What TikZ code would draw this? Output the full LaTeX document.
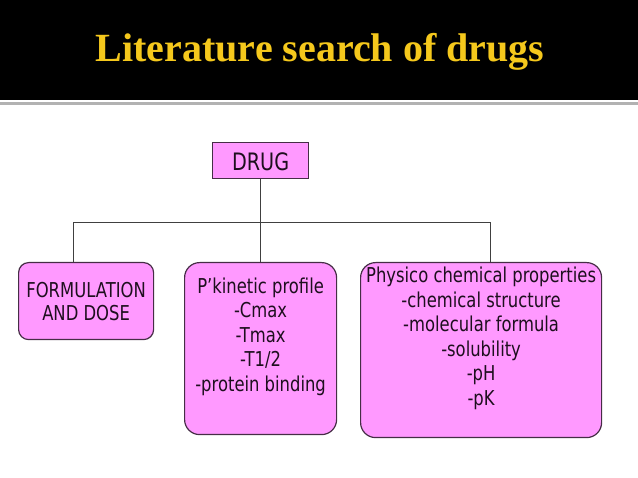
\documentclass[tikz,border=0pt]{standalone}
\usepackage{fontspec}
\usepackage{xcolor}
\usepackage{tikz}
\newfontfamily\titlefont{Liberation Serif}
\newfontfamily\boxfont[FakeStretch=0.8]{DejaVu Sans}
\definecolor{titlegold}{RGB}{245,200,28}
\definecolor{boxpink}{RGB}{255,153,255}
\definecolor{boxedge}{RGB}{70,45,70}
\definecolor{boxtext}{RGB}{30,15,30}

\begin{document}
\begin{tikzpicture}[x=1pt, y=-1pt,
        box/.style={draw=boxedge, line width=1.2pt, fill=boxpink, text=boxtext,
            align=center, inner xsep=0pt, inner ysep=0pt, anchor=north west,
            font=\boxfont\fontsize{20.5}{24.6}\selectfont},
        link/.style={draw=black!75, line width=1pt}]
            \useasboundingbox (0,0) rectangle (638,478);
            % Header
            \fill[black] (0,0) rectangle (638,100);
            \draw[line width=2.5pt, black!30] (0,103.5) -- (638,103.5);
            \node[font=\titlefont\bfseries\fontsize{40}{46}\selectfont, text=titlegold, anchor=base]
                (title) at (320,62) {Literature search of drugs};

            % Boxes
            \node[box, minimum width=96pt, text height=28pt, text depth=8pt,
                font=\boxfont\fontsize{24}{28}\selectfont] (drug) at (212,142) {DRUG};
            \node[box, rounded corners=10pt, minimum width=135pt, text height=58pt, text depth=19pt,
                font=\boxfont\fontsize{20.5}{23}\selectfont] (formulation) at (18,262)
                {FORMULATION\\AND DOSE};
            \node[box, rounded corners=15pt, minimum width=152pt, text height=129pt, text depth=43pt]
                (pkinetic) at (184,262)
                {P’kinetic profile\\-Cmax\\-Tmax\\-T1/2\\-protein binding};
            \node[box, rounded corners=15pt, minimum width=241pt, text height=143pt, text depth=32pt]
                (physico) at (360,262)
                {Physico chemical properties\\-chemical structure\\-molecular formula\\-solubility\\-pH\\-pK};

            % Links
            \coordinate (bar) at (0,223);
            \draw[link] (drug.south) -- (pkinetic.north);
            \draw[link] ([xshift=55pt]formulation.north west) |- ([xshift=130pt]physico.north west |- bar)
                -- ([xshift=130pt]physico.north west);
\end{tikzpicture}
\end{document}
